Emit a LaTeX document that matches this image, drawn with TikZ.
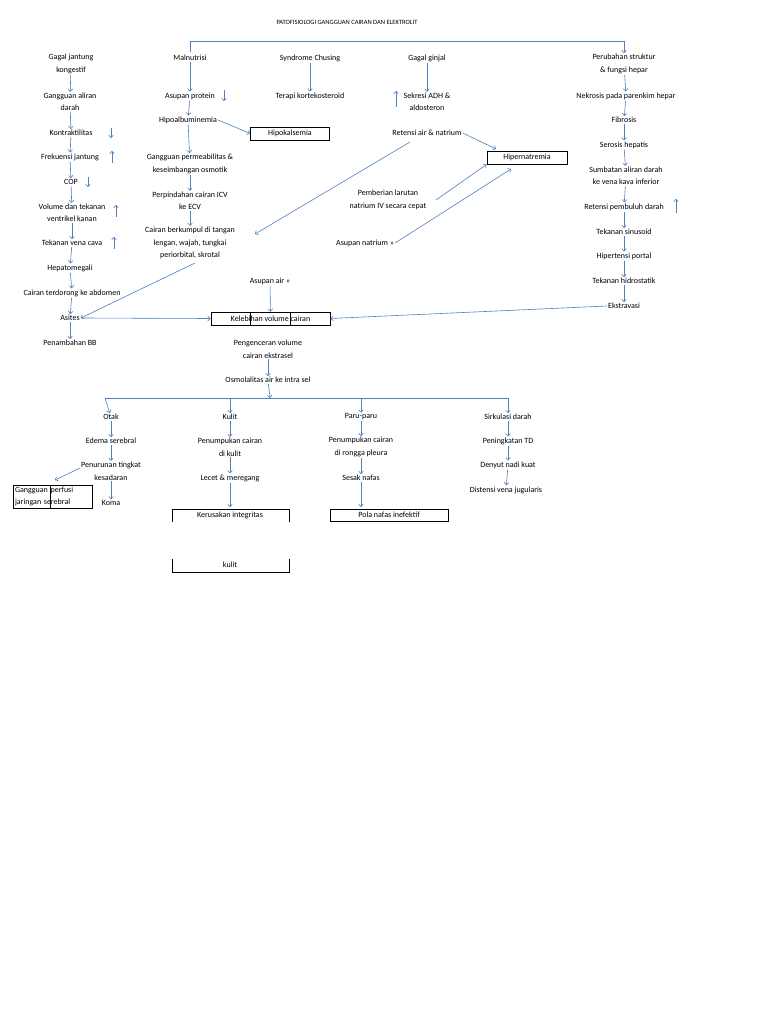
\documentclass[tikz,border=0pt]{standalone}
\usepackage{fontspec}
\setmainfont{Carlito}
\usetikzlibrary{arrows.meta}
\definecolor{ab}{RGB}{79,129,189}
\begin{document}
\begin{tikzpicture}[x=1pt,y=-1pt,
 t/.style={font=\fontsize{8}{12.5}\selectfont,align=center,inner sep=1pt},
 bx/.style={t,draw,line width=0.8pt,minimum height=13pt},
 ar/.style={draw=ab,-{To[length=3pt,width=5pt]},line width=0.6pt},
 ln/.style={draw=ab,line width=0.6pt}]
\useasboundingbox[fill=white] (0,0) rectangle (768,1024);
\node[t,font=\fontsize{6.5}{8}\selectfont] (title) at (347,22) {PATOFISIOLOGI GANGGUAN CAIRAN DAN ELEKTROLIT};
% left column
\node[t] (a1) at (71,64) {Gagal jantung\\kongestif};
\node[t] (a2) at (70,102) {Gangguan aliran\\darah};
\node[t] (a3) at (71,133) {Kontraktilitas};
\node[t] (a4) at (70,157) {Frekuensi jantung};
\node[t] (a5) at (71,182) {COP};
\node[t] (a6) at (72,213) {Volume dan tekanan\\ventrikel kanan};
\node[t] (a7) at (72,243) {Tekanan vena cava};
\node[t] (a8) at (70,268) {Hepatomegali};
\node[t] (a9) at (72,293) {Cairan terdorong ke abdomen};
\node[t] (a10) at (70,318) {Asites};
\node[t] (a11) at (70,343) {Penambahan BB};
\foreach \u/\v in {a1/a2,a2/a3,a3/a4,a4/a5,a5/a6,a6/a7,a7/a8,a8/a9,a9/a10,a10/a11}
  \draw[ar] (\u) -- (\v);
\draw[ar] (111,128) -- (111,138);
\draw[ar] (112,163) -- (112,151);
\draw[ar] (88,177) -- (88,187);
\draw[ar] (116,217) -- (116,205);
\draw[ar] (114,249) -- (114,237);
% middle column
\node[t] (m1) at (190,58) {Malnutrisi};
\node[t] (m2) at (190,96) {Asupan protein};
\node[t] (m3) at (188,120) {Hipoalbuminemia};
\node[bx,minimum width=79pt] (hk) at (290,133.5) {Hipokalsemia};
\node[t] (m4) at (190,164) {Gangguan permeabilitas \&\\keseimbangan osmotik};
\node[t] (m5) at (190,201) {Perpindahan cairan ICV\\ke ECV};
\node[t] (m6) at (190,243) {Cairan berkumpul di tangan\\lengan, wajah, tungkai\\periorbital, skrotal};
\draw[ar] (m1) -- (m2);
\draw[ar] (m2) -- (m3);
\draw[ar] (m3) -- (m4);
\draw[ar] (m4) -- (m5);
\draw[ar] (m5) -- (m6);
\draw[ar] (224,90) -- (224,101);
\draw[ar] (m3.east) -- (hk.west);
\draw[ar] (195,263) -- (a10.east);
% top connector
\coordinate (tl) at (190,41);
\node[t] (h1) at (624,64) {Perubahan struktur\\\& fungsi hepar};
\draw[ln] (190,52) -- (tl) -- (624,41);
\draw[ar] (624,41) -- (h1.north);
% Syndrome / ginjal
\node[t] (s1) at (310,58) {Syndrome Chusing};
\node[t] (s2) at (310,96) {Terapi kortekosteroid};
\draw[ar] (s1) -- (s2);
\node[t] (g1) at (427,58) {Gagal ginjal};
\node[t] (g2) at (427,102) {Sekresi ADH \&\\aldosteron};
\draw[ar] (g1) -- (g2);
\draw[ar] (396,107) -- (396,91);
\node[t] (g3) at (427,133) {Retensi air \& natrium};
\node[bx,minimum width=80pt] (hn) at (527,157.5) {Hipernatremia};
\draw[ar] (410,142) -- (255,234);
\draw[ar] (g3.east) -- (496,149);
\node[t] (p1) at (388,200) {Pemberian larutan\\natrium IV secara cepat};
\draw[ar] (436,200) -- (hn.south west);
\node[t] (p2) at (365,243) {Asupan natrium >>};
\draw[ar] (p2.east) -- (511,169);
\node[t] (w1) at (270,281) {Asupan air >>};
\node[bx,minimum width=119pt] (kv) at (270.5,318.5) {Kelebihan volume cairan};
\draw[line width=0.8pt] (250,312) -- (250,325) (290,312) -- (290,325);
\draw[ar] (w1) -- (kv);
\draw[ar] (a10.east) -- (kv.west);
% right column
\node[t] (h2) at (626,96) {Nekrosis pada parenkim hepar};
\node[t] (h3) at (624,120) {Fibrosis};
\node[t] (h4) at (624,145) {Serosis hepatis};
\node[t] (h5) at (626,176) {Sumbatan aliran darah\\ke vena kava inferior};
\node[t] (h6) at (624,207) {Retensi pembuluh darah};
\node[t] (h7) at (624,232) {Tekanan sinusoid};
\node[t] (h8) at (624,256) {Hipertensi portal};
\node[t] (h9) at (624,281) {Tekanan hidrostatik};
\node[t] (h10) at (624,306) {Ekstravasi};
\foreach \u/\v in {h1/h2,h2/h3,h3/h4,h4/h5,h5/h6,h6/h7,h7/h8,h8/h9,h9/h10}
  \draw[ar] (\u) -- (\v);
\draw[ar] (676,213) -- (676,199);
\draw[ar] (h10.west) -- (kv.east);
% lower part
\node[t] (e1) at (268,349) {Pengenceran volume\\cairan ekstrasel};
\node[t] (e2) at (268,380) {Osmolalitas air ke intra sel};
\draw[ar] (e1) -- (e2);
\coordinate (sp) at (270,398);
\draw[ar] (e2) -- (sp);
\draw[ln] (105,398) -- (508,398);
\node[t] (o1) at (111,417) {Otak};
\node[t] (o2) at (111,441) {Edema serebral};
\node[t] (o3) at (111,471) {Penurunan tingkat\\kesadaran};
\node[t] (o4) at (111,503) {Koma};
\node[t,minimum width=79pt,minimum height=23pt,draw,line width=0.8pt,align=left,text width=75pt] (gp) at (52.5,496.5) {Gangguan perfusi\\jaringan serebral};
\draw[line width=0.8pt] (50,485) -- (50,508);
\draw[ar] (105,398) -- (o1);
\draw[ar] (o1) -- (o2);
\draw[ar] (o2) -- (o3);
\draw[ar] (o3) -- (o4);
\draw[ar] (80,468) -- (55,480);
\node[t] (k1) at (230,417) {Kulit};
\node[t] (k2) at (230,447) {Penumpukan cairan\\di kulit};
\node[t] (k3) at (230,478) {Lecet \& meregang};
\node[t] (k4) at (230,515) {Kerusakan integritas};
\node[t] (k5) at (230,565) {kulit};
\draw[line width=0.8pt] (172,522) -- (172,509) -- (289,509) -- (289,522);
\draw[line width=0.8pt] (172,559) -- (172,572) -- (289,572) -- (289,559);
\draw[ar] (230,398) -- (k1);
\draw[ar] (k1) -- (k2);
\draw[ar] (k2) -- (k3);
\draw[ar] (k3) -- (230,507);
\node[t] (r1) at (361,417) {Paru-paru};
\node[t] (r2) at (361,447) {Penumpukan cairan\\di rongga pleura};
\node[t] (r3) at (361,478) {Sesak nafas};
\node[bx,minimum width=118pt,minimum height=12pt] (r4) at (389,515) {Pola nafas inefektif};
\draw[ar] (361,398) -- (r1);
\draw[ar] (r1) -- (r2);
\draw[ar] (r2) -- (r3);
\draw[ar] (r3) -- (361,507);
\node[t] (c1) at (508,417) {Sirkulasi darah};
\node[t] (c2) at (508,441) {Peningkatan TD};
\node[t] (c3) at (508,465) {Denyut nadi kuat};
\node[t] (c4) at (506,490) {Distensi vena jugularis};
\draw[ar] (508,398) -- (c1);
\draw[ar] (c1) -- (c2);
\draw[ar] (c2) -- (c3);
\draw[ar] (c3) -- (c4);
\end{tikzpicture}
\end{document}
